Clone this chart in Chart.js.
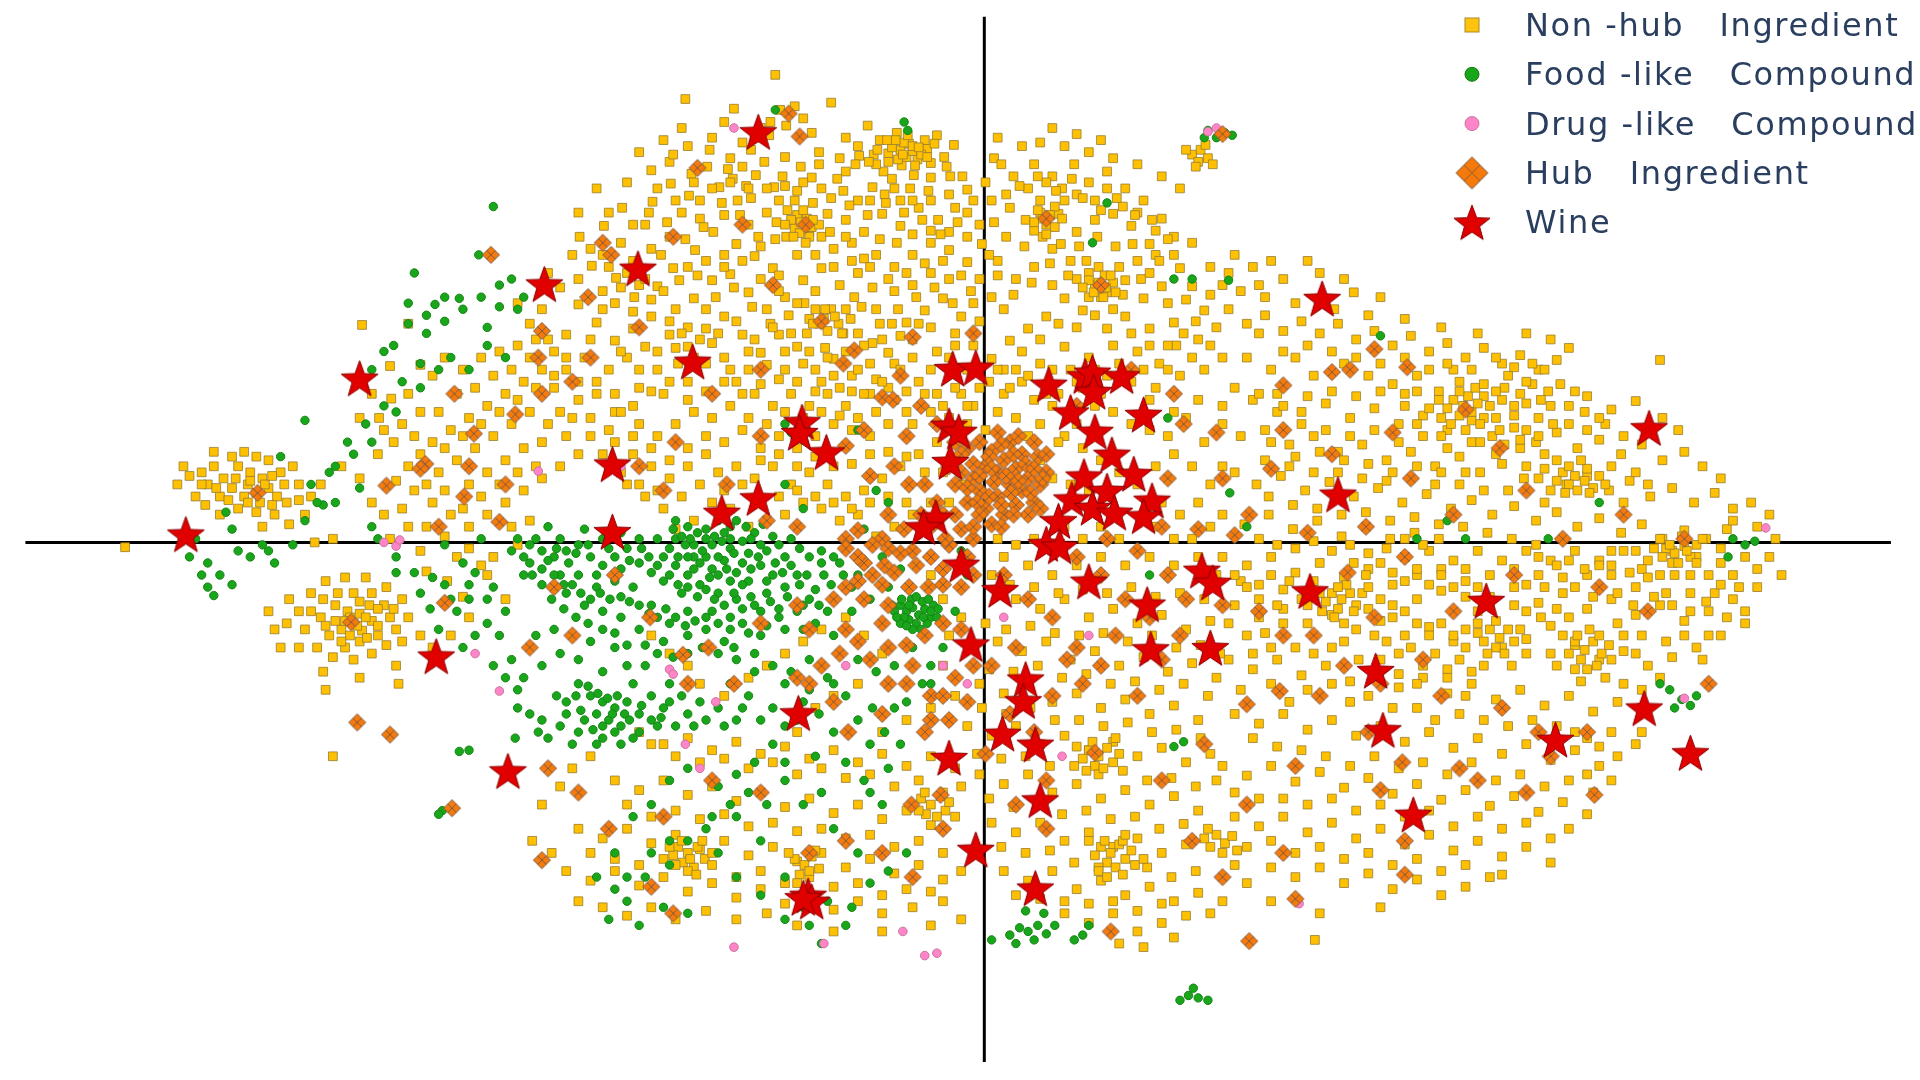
<!DOCTYPE html>
<html>
<head>
<meta charset="utf-8">
<title>Wine in the ingredient / compound map</title>
<script src="https://cdn.jsdelivr.net/npm/chart.js@4.4.1/dist/chart.umd.min.js"></script>
<style>
  html, body { margin: 0; padding: 0; background: #fff; }
  #wrap { width: 1920px; height: 1080px; }
</style>
</head>
<body>
<div id="wrap"><canvas id="chart" width="1920" height="1080"></canvas></div>
<script>
// embedding coordinates (x right, y down), flat x,y lists
const xRange = [0, 1568];
const yRange = [0, 882];
const origin = [804, 443];
const axisSpanX = [15, 1550];
const axisSpanY = [8, 873];

const seriesNames = ["Non -hub   Ingredient", "Food -like   Compound", "Drug -like   Compound", "Hub   Ingredient", "Wine"];

const nonHubTopLeft = [
  558,76, 632,56, 678,79, 598,84, 636,85, 648,82, 655,92, 641,98, 627,106, 662,104, 612,118, 640,124, 668,120, 690,108,
  708,98, 718,110, 725,121, 732,104, 742,113, 749,126, 757,117, 765,106, 771,124, 779,114, 736,131, 746,139, 721,136,
  701,123, 690,136, 760,141, 776,140, 712,149, 688,152, 662,141, 650,152, 631,149, 616,139, 601,160, 586,149, 576,132,
  561,156, 546,146, 531,161, 525,180, 506,166, 491,181, 471,190, 481,214, 501,224, 516,240, 535,231, 548,216, 566,201,
  581,186, 600,196, 615,206, 630,216, 641,190, 660,186, 675,171, 690,176, 705,186, 720,171, 735,181, 750,166, 766,176,
  780,166, 790,151, 745,205, 730,215, 715,205, 700,220, 685,230, 670,216, 655,226, 640,240, 625,250, 610,236, 595,221,
  580,226, 565,241, 550,250, 530,256, 515,266, 500,276, 485,261, 470,246, 460,271, 475,290, 495,300, 510,290, 525,281,
  545,271, 560,281, 575,266, 590,256, 605,271, 620,286, 635,271, 650,281, 665,300, 680,291, 695,305, 710,295, 725,286,
  740,261, 755,251, 770,241, 785,256, 760,195, 775,201, 790,211,
  735,118, 740,124, 745,119, 738,112, 752,122, 728,116, 733,126, 747,131, 725,128, 755,110, 741,106, 760,129,
  650,172, 658,175, 662,182, 648,183, 655,168, 668,180, 645,176, 660,190, 652,187, 642,168,
  665,250, 672,258, 678,250, 668,262, 660,258, 684,262, 675,268, 690,250, 656,245,
  620,100, 628,95, 615,108, 605,112, 595,125, 605,132,
  555,170, 570,175, 590,172, 610,180, 625,170, 635,160, 612,158, 597,142, 570,160, 545,190, 530,200, 515,210, 560,215,
  575,210, 590,205, 620,225, 635,235, 650,205, 665,205, 680,200, 695,195, 710,160, 722,155, 735,160, 700,160, 690,190,
  705,208, 718,192, 732,195, 745,188, 760,185, 775,186, 790,190, 775,225, 760,220, 745,230, 730,235, 712,232, 697,240,
  715,250, 728,262, 745,275, 760,265, 780,270, 795,280, 700,270, 712,278, 640,300, 610,300, 590,290, 575,295, 552,295,
  535,300, 500,320, 520,315, 540,320, 560,310, 520,230, 500,245, 490,235, 470,225, 465,205, 490,205, 505,195, 470,170,
  485,150, 510,145, 530,135, 520,120, 545,128, 560,115, 580,108, 590,95, 555,100, 540,110
];

const nonHubDenseTop = [
  548,122, 563,138, 578,118, 593,134, 608,148, 623,128, 638,140, 653,132, 668,130, 683,142, 698,130, 713,122, 728,142,
  743,150, 758,152, 773,132, 786,140, 795,160, 782,178, 768,188, 753,176, 738,170, 723,162, 708,172, 693,164, 678,158,
  663,162, 648,160, 633,178, 618,190, 603,172, 588,162, 573,182, 558,192, 543,178, 528,170, 538,205, 553,226, 568,222,
  583,240, 598,232, 613,248, 628,262, 643,255, 658,270, 673,282, 688,270, 703,248, 718,262, 733,250, 748,240, 763,232,
  778,245, 793,235, 785,222, 770,210, 755,212, 740,220, 725,225, 710,215, 695,210, 680,215, 665,235, 650,245, 635,222,
  620,198, 605,210, 590,215, 575,250, 560,265, 545,260, 530,242, 515,252, 505,285, 520,300, 535,285, 550,282, 565,290,
  580,278, 595,300, 610,285, 625,296, 640,285, 655,295, 670,310, 685,315, 700,300, 715,308, 730,295, 745,290, 760,300,
  775,290, 790,300, 800,315, 785,320, 770,330, 755,320, 740,318, 725,315, 710,320, 695,318, 680,305, 665,318, 650,310,
  635,308, 620,312, 605,320, 590,310, 575,318, 560,325, 545,310, 530,318, 515,330, 500,335, 485,310, 480,275, 490,250,
  505,232, 480,200, 495,170, 515,180, 535,150, 550,160, 565,145, 580,150, 595,145, 610,150, 625,150, 640,148, 655,145,
  670,150, 685,125, 700,115, 715,130, 730,150, 745,160, 760,160, 775,155, 790,170, 800,180, 795,245, 800,260, 780,280,
  765,285, 750,262, 735,272, 720,275, 705,280, 690,285, 675,290, 660,285, 645,270, 630,265, 615,275, 600,260, 585,270,
  570,275, 555,270, 540,235, 525,225, 510,220, 495,215, 745,115, 737,122, 750,116, 731,110, 757,124, 763,113, 724,110,
  716,118, 709,128, 653,178, 647,190, 663,176, 670,190, 657,195, 640,180, 632,192, 677,186, 673,250, 681,256, 663,262,
  687,270, 694,258
];

const nonHubTopRight = [
  812,125, 828,140, 845,130, 860,140, 878,130, 890,145, 905,136, 920,150, 935,160, 950,175, 960,190, 940,196, 925,181,
  910,171, 895,176, 880,186, 865,171, 850,160, 838,176, 825,166, 812,178, 802,196, 815,210, 830,225, 845,215, 860,200,
  875,210, 890,220, 905,236, 920,226, 935,241, 950,231, 965,216, 975,231, 985,251, 960,261, 940,266, 920,256, 905,266,
  885,251, 870,241, 855,256, 840,266, 825,276, 810,291, 830,300, 850,295, 870,281, 890,290, 910,280, 930,285, 948,295,
  962,280, 980,275, 995,265, 1000,290, 985,300, 965,305, 945,315, 925,310, 905,305, 885,315, 865,320, 845,325, 820,320,
  810,240, 800,225, 820,250, 860,230, 880,225, 895,230, 900,240, 910,228, 890,240, 898,215, 915,215, 930,210, 945,205,
  960,205, 975,195, 990,215, 1000,230, 855,180, 850,170, 862,165, 870,160, 845,185, 840,150, 855,145, 868,150, 880,155,
  895,160, 905,150, 918,165, 930,170, 945,185, 822,155, 810,160, 805,145, 815,108, 835,115, 850,112, 870,115, 890,120,
  910,125, 930,130, 950,140, 965,150, 900,110, 880,105, 860,100,
  975,122, 982,118, 988,125, 980,128, 992,130, 986,114, 970,118, 978,132,
  1010,205, 1025,215, 1040,210, 1030,230, 1050,225, 1015,235, 1005,220,
  818,130, 833,148, 848,140, 863,152, 876,142, 885,158, 900,168, 913,158, 928,172, 942,176, 955,192, 948,210, 933,225,
  918,238, 903,222, 888,210, 873,222, 858,212, 843,228, 828,238, 815,222, 808,205, 822,190, 837,198, 852,190, 867,196,
  882,198, 897,190, 912,198, 926,196, 940,220, 955,245, 970,242, 990,238, 978,260, 968,270, 955,280, 940,280, 925,270,
  910,250, 895,255, 880,265, 865,262, 850,275, 835,285, 820,300, 808,310, 835,310, 855,320, 875,300, 895,300, 915,295,
  935,300, 955,300, 975,290, 990,280, 852,175, 858,172, 848,168, 862,182, 845,178, 855,188, 868,175, 898,228, 904,232,
  894,236, 908,222, 890,226, 902,240, 912,236, 885,232
];

const nonHubLeft = [
  190,380, 200,385, 210,390, 198,395, 205,402, 215,398, 222,405, 195,405, 185,398, 178,390, 170,380, 160,385, 150,388,
  140,395, 165,395, 175,405, 230,410, 240,395, 235,380, 225,385, 215,375, 205,372, 195,368, 185,372, 250,405, 245,420,
  232,428, 220,420, 205,418, 190,415, 175,420, 210,430, 170,368, 155,405, 163,412,
  200,392, 212,395, 208,410, 198,410, 218,388, 188,390, 228,395, 182,408, 172,398, 240,408, 218,412, 160,395, 145,380,
  258,395,
  270,495, 280,500, 290,502, 298,495, 285,510, 275,515, 292,516, 300,508, 305,520, 290,525, 278,530, 265,520, 258,505,
  260,490, 272,485, 285,485, 300,485, 310,495, 315,505, 320,515, 312,528, 300,535, 285,540, 268,538, 255,530, 245,515,
  240,500, 250,485, 262,475, 278,472, 295,472, 312,480, 325,490, 330,505, 325,525, 240,530, 230,510, 232,490, 220,515,
  225,530, 215,500, 260,550, 290,555, 320,545, 340,520, 262,565, 268,620, 322,560,
  282,505, 288,512, 295,505, 278,508, 296,522, 282,520, 270,508, 305,498, 262,512, 305,512, 275,525, 250,500, 318,498,
  290,492,
  292,263, 330,262, 315,297, 340,296, 350,305, 330,320, 360,290, 375,300, 390,290, 405,285, 420,280, 435,275, 450,285,
  440,300, 425,310, 410,320, 395,330, 380,340, 365,350, 350,360, 340,370, 330,380, 320,392, 335,400, 350,410, 365,420,
  380,430, 395,420, 410,410, 425,400, 440,390, 455,380, 470,370, 460,355, 445,345, 430,335, 415,345, 400,355, 385,365,
  370,375, 355,385, 380,395, 395,385, 410,375, 425,365, 440,360, 455,335, 470,325, 485,320, 480,340, 495,350, 505,335,
  520,345, 535,355, 550,345, 565,335, 580,340, 595,330, 310,420, 300,410, 325,415, 345,430, 360,438, 380,448, 400,455,
  420,445, 268,440, 253,443, 97,447, 275,380, 290,390, 305,370, 318,360, 325,345, 340,335, 306,340, 316,324, 440,250,
  430,262, 420,245, 455,232, 445,220, 470,310, 460,300, 450,315, 345,467, 362,475, 375,488, 395,470, 410,490, 380,505,
  365,520, 350,530,
  300,320, 290,340, 310,350, 335,355, 355,335, 370,320, 385,315, 400,305, 415,300, 430,290, 445,275, 460,290, 390,345,
  405,335, 420,325, 435,315, 450,305, 465,340, 480,355, 490,370, 505,385, 520,395, 535,400, 420,385, 435,380, 405,395,
  390,405, 375,415, 360,400, 345,395, 330,430, 315,440, 340,450, 370,455, 390,462, 415,430, 430,425, 360,365, 375,355
];

const nonHubCentre = [
  600,310, 615,320, 630,330, 645,320, 660,330, 675,320, 690,330, 705,320, 720,310, 735,300, 750,310, 765,320, 780,315,
  795,330, 740,335, 725,345, 710,355, 695,350, 680,345, 665,355, 650,365, 635,355, 620,365, 605,350, 590,360, 575,370,
  560,380, 545,390, 530,380, 515,370, 500,360, 510,395, 525,405, 540,415, 555,405, 570,395, 585,385, 600,380, 615,390,
  630,380, 645,395, 660,385, 675,395, 690,405, 705,400, 720,390, 735,380, 750,370, 765,360, 780,355, 790,345, 785,395,
  775,410, 760,410, 745,420, 730,430, 715,438, 700,420, 685,425, 670,415, 655,410, 640,420, 625,425, 610,430, 595,415,
  580,410, 565,425, 550,432,
  610,340, 625,345, 640,335, 655,340, 670,335, 685,338, 700,340, 715,335, 730,325, 745,345, 760,335, 775,340, 790,330,
  620,375, 635,370, 650,380, 665,372, 680,380, 695,378, 710,370, 725,368, 740,372, 755,385, 770,385, 590,400, 605,395,
  620,410, 635,405, 650,400, 665,405, 680,410, 695,415, 710,410, 725,405, 740,410, 575,355, 560,365, 545,375, 530,365,
  515,355,
  860,330, 850,345, 870,355, 885,365, 900,375, 915,385, 930,395, 945,380, 960,370, 975,380, 990,395, 1000,380, 985,360,
  970,340, 955,355, 940,350, 925,345, 910,335, 895,330, 880,345, 865,360, 850,375, 860,390, 875,395, 890,400, 950,410,
  965,420, 980,410, 990,430, 975,440, 960,440, 945,430, 915,440, 900,430, 885,440, 870,430, 845,440, 830,445, 815,440,
  805,350, 815,335, 830,340, 840,355, 825,315, 815,300, 840,305, 860,300, 880,310, 900,320, 940,325, 960,335, 980,325,
  1000,330
];

const nonHubRightUpper = [
  1005,250, 1020,262, 1035,255, 1050,268, 1065,260, 1080,270, 1095,262, 1110,275, 1125,268, 1140,280, 1155,272, 1170,285,
  1185,278, 1200,290, 1215,282, 1230,295, 1245,288, 1260,300, 1275,292, 1285,282, 1210,270, 1180,265, 1150,258, 1120,255,
  1092,250, 1060,245, 1035,240, 1130,240, 1108,236, 1100,225, 1080,220, 1070,210, 1020,290, 1040,300, 1060,290, 1075,305,
  1100,295, 1120,305, 1140,312, 1160,305, 1178,318, 1195,310, 1215,322, 1232,315, 1250,328, 1268,318, 1285,330, 1300,322,
  1320,333, 1340,326, 1360,292, 1362,340, 1375,350, 1010,315, 1025,325, 1045,320, 1065,335, 1085,328, 1105,340, 1125,332,
  1145,345, 1165,338, 1185,350, 1205,342, 1222,355, 1240,348, 1258,360, 1275,352, 1292,365, 1310,358, 1328,370, 1345,362,
  1362,375, 1380,368, 1395,380, 1410,390, 1000,345, 1015,355, 1035,350, 1055,362, 1075,355, 1095,368, 1115,362, 1135,375,
  1155,368, 1175,380, 1195,372, 1212,385, 1230,378, 1248,390, 1265,382, 1283,395, 1300,388, 1318,400, 1335,392, 1352,405,
  1370,398, 1388,410, 1405,402, 1420,415, 1435,410, 1450,420, 1010,385, 1028,395, 1048,388, 1068,400, 1088,393, 1108,405,
  1128,398, 1148,410, 1168,403, 1188,415, 1205,408, 1222,420, 1240,413, 1258,425, 1275,418, 1292,430, 1310,423, 1328,435,
  1345,428, 1362,440, 1380,433, 1398,440, 1415,432, 1000,420, 1018,428, 1038,420, 1058,432, 1078,425, 1098,438, 1118,430,
  1138,440, 1158,435, 1178,440,
  1190,325, 1198,330, 1205,335, 1210,328, 1195,338, 1185,332, 1215,340, 1202,322, 1220,330, 1180,340,
  1280,385, 1290,388, 1298,392, 1285,395, 1300,382, 1305,398, 1275,392, 1292,400, 1310,388,
  1205,300, 1250,270, 1270,275, 1190,300,
  1195,318, 1208,315, 1212,345, 1188,345, 1225,340, 1178,325, 1200,350, 1230,325, 1170,332, 1240,338, 1160,345, 1150,330,
  1180,355, 1250,350, 1260,340, 1270,330, 1285,345, 1300,350, 1315,345, 1330,355,
  1285,380, 1295,375, 1302,402, 1282,402, 1270,400, 1315,395, 1320,380, 1275,375, 1260,390, 1330,410, 1340,385, 1350,395,
  1265,410, 1250,380,
  1030,270, 1050,285, 1070,280, 1090,285, 1110,290, 1130,295, 1150,290, 1170,300, 1185,295, 1045,335, 1065,345, 1085,350,
  1105,355, 1125,350, 1145,360, 1165,355, 1185,365, 1205,360, 1225,370, 1245,365, 1265,370, 1035,375, 1055,380, 1075,385,
  1095,385, 1115,390, 1135,392, 1175,395, 1195,395, 1215,400, 1235,400, 1038,405, 1058,412, 1078,415, 1098,420, 1118,418,
  1138,425, 1158,422, 1178,428, 1198,430, 1218,435, 1238,440, 1258,445,
  1215,312, 1225,318, 1235,305, 1245,320, 1255,312, 1262,325, 1240,330, 1228,350, 1245,358, 1260,355, 1272,345, 1212,360,
  1232,362, 1250,310, 1265,300, 1278,312, 1290,318, 1298,335, 1310,340, 1225,290, 1240,298, 1255,295,
  1030,320, 1050,330, 1070,322, 1090,318, 1110,322, 1130,318, 1150,320, 1160,318, 1040,360, 1060,372, 1080,368, 1100,375,
  1120,378, 1140,385, 1160,380, 1180,385, 1200,385
];

const nonHubRightLower = [
  1000,455, 1020,462, 1040,455, 1060,468, 1080,460, 1100,472, 1120,465, 1140,478, 1160,470, 1180,483, 1200,475, 1220,488,
  1240,480, 1260,493, 1280,485, 1300,498, 1320,490, 1340,503, 1360,495, 1380,508, 1400,500, 1420,490, 1440,480, 1460,470,
  1450,455, 1430,455, 1410,448, 1390,455, 1370,450, 1350,458, 1330,450, 1310,458, 1290,450, 1270,458, 1250,450, 1230,458,
  1210,450, 1190,458, 1170,450, 1150,455,
  1010,495, 1030,505, 1050,498, 1070,510, 1090,503, 1110,515, 1130,508, 1150,520, 1170,513, 1190,525, 1210,518, 1230,530,
  1250,523, 1270,535, 1290,528, 1310,540, 1330,533, 1350,545, 1370,538, 1390,530, 1410,520, 1430,510,
  1005,540, 1025,548, 1045,540, 1065,553, 1085,545, 1105,558, 1125,550, 1145,563, 1165,555, 1185,568, 1205,560, 1225,573,
  1245,565, 1265,578, 1285,570, 1305,583, 1325,575, 1345,565, 1360,555,
  1010,585, 1030,593, 1050,585, 1070,598, 1090,590, 1110,603, 1130,595, 1150,608, 1170,600, 1190,613, 1210,605, 1230,618,
  1250,610, 1270,623, 1290,615, 1310,628, 1325,620, 1345,600, 1300,605, 1320,640, 1305,650,
  1000,628, 1020,636, 1040,628, 1060,641, 1080,633, 1100,646, 1120,638, 1140,651, 1160,643, 1180,656, 1200,648, 1220,661,
  1240,653, 1260,666, 1280,658,
  1010,670, 1030,678, 1050,670, 1070,683, 1090,675, 1110,688, 1130,680, 1150,693, 1170,685, 1190,698, 1210,690, 1230,703,
  1250,695, 1270,708,
  1040,712, 1060,720, 1080,712, 1100,725, 1120,717, 1140,730, 1160,722, 1180,735, 1130,745, 1080,750, 1040,740, 1020,725,
  1010,710, 1000,740, 1200,728, 1230,718, 1285,680, 1300,668, 1076,772,
  1365,448, 1372,452, 1380,446, 1385,455, 1370,460, 1360,440, 1378,438, 1390,445,
  1290,525, 1298,532, 1305,525, 1312,535, 1295,540, 1285,535, 1308,545, 1318,528,
  1220,515, 1228,522, 1235,515, 1240,525, 1225,530, 1215,525,
  1090,485, 1098,490, 1105,485, 1110,495, 1095,498, 1085,492, 1102,478,
  995,685, 1002,692, 1008,686, 990,695, 1000,700, 1012,698, 985,688,
  1368,445, 1375,460, 1382,450, 1362,455, 1390,460, 1395,440, 1355,448, 1372,470, 1385,470, 1400,470, 1345,465, 1340,450,
  1410,460, 1420,470, 1425,480, 1405,485, 1385,485, 1365,485,
  1292,520, 1302,515, 1310,520, 1300,548, 1290,548, 1320,540, 1280,520, 1275,545, 1315,555, 1295,558, 1330,520, 1325,510,
  1340,535, 1270,512,
  1225,508, 1232,535, 1218,535, 1245,515, 1210,510, 1250,535, 1200,530, 1238,545,
  1095,480, 1108,500, 1092,505, 1115,485, 1080,485, 1082,500, 1120,498, 1100,510, 1070,495, 1075,475,
  1040,560, 1055,575, 1070,565, 1090,560, 1105,575, 1120,570, 1140,580, 1160,580, 1175,590, 1195,585, 1215,590, 1235,595,
  1255,590, 1275,595, 1290,600, 1015,565, 1025,605, 1045,612, 1065,615, 1085,620, 1105,628, 1125,620, 1145,630, 1165,625,
  1185,635, 1205,625, 1225,640, 1245,635, 1265,645, 1285,640, 1300,635, 1010,650, 1030,655, 1050,655, 1070,660, 1090,655,
  1110,665, 1130,660, 1150,670, 1170,665, 1190,678, 1210,670, 1230,680, 1250,675, 1270,688, 1020,695, 1040,690, 1060,700,
  1080,695, 1100,705, 1120,700, 1140,710, 1160,705, 1180,715, 1200,710, 1220,720,
  1320,450, 1300,470, 1280,472, 1260,470, 1240,465, 1220,470, 1200,465, 1180,465, 1160,490, 1140,495, 1120,480, 1050,482,
  1030,478, 1015,475, 1320,470, 1340,480, 1360,470, 1440,465, 1455,440, 1440,430, 1420,425, 1430,500, 1415,505, 1400,520,
  1395,540, 1380,520, 1365,525, 1345,520, 1330,560, 1345,580, 1340,610, 1320,600, 1310,612,
  1130,460, 1140,468, 1150,475, 1160,465, 1170,478, 1180,470, 1190,480, 1200,488, 1210,480, 1130,490, 1140,505, 1150,500,
  1160,510, 1170,520, 1180,510, 1190,520, 1200,515, 1210,500, 1220,495, 1135,525, 1145,535, 1155,530, 1165,545, 1175,535,
  1185,548, 1195,540, 1205,550, 1215,545, 1130,540, 1125,520, 1118,470, 1108,460, 1112,540, 1145,552, 1160,560, 1185,555,
  1200,570,
  1260,455, 1275,462, 1285,458, 1298,465, 1310,462, 1320,462, 1335,468, 1350,472, 1250,478, 1265,480, 1290,480, 1305,488,
  1325,485, 1338,495, 1355,488, 1370,495, 1385,500, 1398,492, 1410,478, 1250,500, 1262,505, 1275,498, 1285,505, 1240,495,
  1030,440, 1045,445, 1060,448, 1075,442, 1090,450, 1105,445, 1120,452, 1135,448, 1150,440, 1165,445, 1040,470, 1055,475,
  1065,490, 1045,495, 1030,490, 1020,480, 1010,470, 1005,510, 1020,520, 1035,518, 1050,510, 1060,530, 1075,535, 1090,530,
  1100,525, 1040,530, 1025,535
];

const nonHubCentreLower = [
  820,455, 840,462, 860,470, 880,462, 900,455, 920,462, 940,455, 960,462, 980,455, 995,470,
  830,490, 850,498, 870,490, 890,505, 910,498, 930,510, 950,503, 970,515, 990,508,
  815,525, 835,533, 855,525, 875,540, 895,533, 915,545, 935,538, 955,550, 975,543, 995,555,
  800,560, 820,568, 840,560, 860,575, 880,568, 900,580, 920,573, 940,585, 960,578, 980,590,
  790,595, 810,603, 830,595, 850,610, 870,603, 890,615, 910,608, 930,620, 950,613, 970,625, 990,618,
  800,635, 820,643, 840,635, 860,650, 880,643, 900,655, 920,648, 940,660, 960,653, 980,665,
  810,675, 830,683, 850,675, 870,690, 890,683, 910,695, 930,688, 950,700, 970,693,
  820,715, 840,723, 860,715, 880,730, 900,723, 920,735, 940,728, 960,740, 980,733,
  870,750, 890,758, 910,750, 930,765, 950,758, 915,775, 935,778, 960,770,
  900,695, 908,700, 915,693, 920,705, 905,708, 895,702, 912,712, 925,698,
  890,615, 898,620, 905,613, 910,625, 895,628, 885,622,
  810,470, 825,478, 845,480, 865,485, 885,482, 905,485, 925,480, 945,488, 965,485, 985,490,
  805,510, 822,515, 842,512, 862,518, 882,520, 902,518, 922,525, 942,520, 962,530, 982,528, 998,535,
  808,548, 828,550, 848,545, 868,555, 888,552, 908,560, 928,558, 948,565, 968,560, 988,570,
  802,580, 822,585, 842,580, 862,590, 882,590, 902,595, 922,592, 942,600, 962,598, 982,605,
  798,618, 818,622, 838,620, 858,628, 878,628, 898,635, 918,632, 938,640, 958,638, 978,645, 995,640,
  808,655, 828,662, 848,660, 868,668, 888,665, 908,672, 928,670, 948,680, 968,676, 988,680,
  818,695, 838,700, 858,698, 878,708, 898,712, 918,718, 938,712, 958,720, 978,715,
  830,735, 850,738, 870,740, 890,742, 910,740, 930,748, 950,742, 970,752, 990,750,
  903,690, 918,690, 928,710, 898,715, 890,690, 905,720, 920,685, 935,705,
  893,608, 902,630, 915,618, 880,612, 888,632, 912,605
];

const nonHubBottomLeft = [
  520,600, 540,610, 560,605, 580,615, 600,608, 620,618, 640,612, 660,622, 680,615, 700,625, 720,618, 740,628, 760,620,
  780,630, 500,640, 520,648, 540,640, 560,652, 580,645, 600,657, 620,650, 640,662, 660,655, 680,667, 700,660, 720,672,
  740,665, 760,677, 780,670, 470,680, 490,688, 510,680, 530,692, 550,685, 570,697, 590,690, 610,702, 630,695, 650,707,
  670,700, 690,712, 710,705, 730,717, 750,710, 770,722, 785,715, 460,715, 480,723, 500,715, 520,727, 540,720, 560,732,
  580,725, 600,737, 620,730, 640,742, 660,735, 680,747, 700,740, 720,750, 745,745, 770,740, 440,660, 455,645, 465,630,
  480,620, 448,700, 432,690,
  552,695, 560,700, 568,695, 574,705, 556,708, 548,702, 565,712,
  648,705, 656,710, 662,703, 668,713, 652,718,
  752,655, 760,660, 768,653, 772,665, 756,668,
  530,520, 545,535, 560,545, 570,560, 590,570, 610,555, 625,545, 640,535, 655,525, 670,515, 690,505, 705,520, 720,535,
  700,560, 680,570, 665,580, 650,600, 720,600, 740,590, 760,580, 780,570, 770,545, 775,520, 785,505, 770,490, 760,470,
  530,610, 550,620, 570,625, 590,622, 610,630, 630,625, 650,635, 670,630, 690,638, 710,635, 730,645, 750,640, 770,650,
  785,645, 510,660, 530,670, 550,665, 570,672, 590,668, 610,678, 630,675, 650,682, 670,680, 690,688, 710,685, 730,695,
  750,690, 770,700, 480,700, 500,705, 520,710, 540,705, 560,715, 580,710, 600,720, 620,715, 640,725, 660,720, 680,728,
  700,725, 720,735, 740,730, 760,732, 555,690, 562,705, 572,690, 545,695, 580,700, 567,718, 550,710, 643,700, 660,715,
  650,725, 665,698, 755,650, 765,670, 750,665, 775,658, 470,740, 490,745, 510,752, 530,745, 550,755, 575,748, 600,755,
  625,750, 650,760, 680,765, 720,765, 760,760, 785,755
];

const foodLeft = [
  400,165, 388,205, 335,220, 372,241, 352,246, 330,262, 318,280, 300,300, 310,285, 345,270, 360,260, 395,265, 405,248,
  415,225, 425,240, 410,290, 365,290, 340,315, 320,335, 300,360, 285,370, 265,385, 250,395, 245,342, 225,372, 270,410,
  260,412, 180,418, 185,432, 160,470, 170,487, 185,478, 200,455, 215,450, 155,440, 165,460, 290,398, 300,430, 305,440,
  320,455, 335,468, 350,472, 360,445, 375,460, 390,440, 385,468, 395,490, 380,478, 365,490, 370,500, 355,515, 348,498,
  410,500, 425,470, 405,520, 415,540, 425,555, 418,605, 437,600, 420,580, 372,616, 380,615, 358,665, 355,668,
  330,245, 345,255, 360,240, 375,250, 390,240, 405,230, 420,250, 395,280, 380,300, 355,300, 340,295, 325,310, 310,330,
  295,345, 280,360, 270,380, 255,410, 245,425, 235,445, 220,460, 210,445, 190,450, 175,470, 165,480, 150,455, 320,468,
  340,485, 360,478, 380,490, 400,480, 395,510, 385,520, 375,530, 400,545, 410,555, 420,565, 430,585, 440,590
];

const foodCore = [
  420,440, 430,445, 440,450, 450,455, 460,450, 470,445, 480,455, 490,462, 500,455, 510,448, 520,460, 530,468, 540,455,
  550,462, 560,470, 570,460, 580,465, 590,458, 600,468, 610,475, 620,462, 630,470, 640,480, 650,470, 660,490, 445,430,
  455,440, 475,432, 490,440, 505,435, 520,440, 535,440, 550,440, 565,445, 580,445, 595,448, 610,452, 625,450, 640,455,
  550,425, 560,430, 575,432, 590,435, 600,425, 615,435, 630,438, 540,475, 555,485, 570,478, 585,485, 600,490, 615,495,
  625,485, 580,500, 595,505, 560,500, 545,510, 530,495, 515,480, 500,475, 485,480, 470,470, 455,470, 440,465, 430,460,
  460,485, 475,495, 490,500, 505,505, 520,515, 540,525, 560,520, 575,515, 590,525, 605,510, 620,520, 635,505, 650,500,
  665,510, 680,520, 695,500, 710,490, 725,480, 700,470, 685,460, 670,450, 690,440, 705,432, 720,455, 735,465, 575,455,
  585,470, 565,455, 595,475, 605,460, 575,440, 560,455,
  415,450, 425,455, 435,440, 445,458, 452,448, 462,460, 468,452, 478,445, 485,470, 495,448, 505,465, 512,458, 522,448,
  528,455, 535,462, 545,448, 552,455, 558,445, 565,465, 572,450, 578,472, 585,455, 592,465, 598,452, 605,478, 612,465,
  618,455, 625,475, 632,460, 638,468, 645,462, 652,478, 658,470, 665,482, 672,470, 678,478, 688,470, 695,480,
  548,432, 555,438, 562,440, 568,435, 582,438, 588,442, 595,440, 605,442, 612,440, 620,445, 635,445, 645,440, 652,448,
  660,455, 670,460, 680,455, 585,425, 595,430, 608,430, 622,428,
  545,470, 552,478, 560,480, 568,488, 575,482, 582,490, 590,495, 598,485, 605,498, 612,488, 620,500, 628,492, 635,498,
  642,488, 655,495, 668,495, 675,500,
  450,470, 458,478, 465,478, 472,485, 480,490, 488,485, 496,490, 505,488, 512,492, 520,495, 528,502, 535,505, 542,498,
  550,505, 558,512, 566,508, 575,505, 585,510, 595,515, 610,518, 625,512, 640,515, 655,515,
  432,470, 440,478, 448,490, 458,498, 468,505, 478,510, 490,515, 500,518, 510,528, 525,528, 535,535, 548,538, 560,535,
  572,530, 585,535, 598,530,
  735,495, 740,500, 745,497, 750,503, 755,498, 760,505, 742,507, 748,510, 738,505, 753,492, 762,495, 730,500, 744,490,
  757,510, 736,490, 742,495, 748,488, 754,505, 760,500, 735,510, 745,515, 752,515, 765,505, 728,495, 740,512, 758,490,
  766,498, 732,505
];

const foodSouth = [
  470,560, 480,570, 490,575, 500,580, 510,575, 520,585, 495,590, 485,585, 505,595, 515,560, 530,570, 540,580, 460,575,
  475,590, 490,605, 505,610, 520,600, 455,595, 445,605, 465,610, 535,595, 550,595, 560,585, 570,575, 585,580, 600,590,
  610,570, 595,560, 545,560, 525,545, 510,545, 490,550, 470,540, 455,535, 440,545, 435,520, 450,515, 465,520, 480,525,
  500,530, 600,540, 615,550, 640,560, 660,540, 675,555, 690,570, 650,590, 630,610, 615,625, 600,635, 585,645, 640,625,
  665,620, 680,600, 560,630, 545,640, 530,660, 515,670, 500,700, 485,720, 510,740, 495,755, 525,720, 545,710, 575,680,
  600,670, 620,690, 640,720, 655,745, 670,775, 690,760, 700,700, 680,680, 710,650, 725,630, 735,610, 710,610, 730,580,
  760,560, 770,530, 780,500, 790,470, 785,450,
  478,562, 486,568, 494,572, 502,570, 508,585, 498,585, 490,595, 482,598, 472,582, 468,570, 512,590, 522,578, 530,590,
  538,588, 515,605, 500,600, 485,610, 470,600, 460,585, 452,570, 545,575, 555,570, 565,595, 575,590, 590,595, 605,580,
  620,590, 630,580, 640,595, 655,575, 668,585, 680,560, 700,590, 712,580, 722,600, 740,575, 753,560,
  615,535, 630,545, 645,550, 660,565, 700,540, 715,550, 730,545, 745,530, 760,545, 690,625, 705,640, 720,660, 670,650,
  655,660, 640,640, 625,660, 610,650, 595,660, 580,670, 560,690, 545,690, 530,700, 510,720, 500,730, 520,760, 540,745,
  560,750, 585,700, 600,720, 620,735, 640,755, 660,760, 675,740, 695,745, 710,725, 725,715, 740,700
];

const foodOther = [
  640,345, 645,352, 738,95, 741,102, 632,85, 905,162, 893,195, 960,225, 975,225, 1005,226, 1130,272, 1160,440, 1185,425,
  1200,440, 1268,440, 1310,410, 1438,442, 1430,445, 1420,440, 1416,455, 1378,573, 1385,578, 1390,570, 1372,580, 1360,560,
  1368,565, 825,768, 833,762, 840,765, 848,760, 855,767, 845,772, 830,775, 810,772, 862,760, 853,750, 838,748, 965,822,
  972,818, 980,820, 988,822, 976,812, 878,772, 885,768, 890,760, 988,102, 995,108, 1002,104, 985,108, 1008,106, 960,612,
  968,608, 1006,402, 1020,430, 940,470, 955,340, 700,350, 715,400, 725,410, 640,395, 655,415
];

const drugPts = [
  598,100, 988,103, 995,100, 320,446, 310,443, 323,441, 385,535, 405,566, 545,548, 558,610, 570,630, 598,778, 737,765,
  755,785, 765,783, 672,775, 890,520, 868,620, 1063,742, 1380,572, 1447,431, 690,545, 770,545, 505,380, 437,384, 583,575,
  548,552, 820,505, 790,560
];

const hubPts = [
  568,133, 605,180, 652,107, 643,88, 657,180, 548,190, 490,195, 497,205, 398,205, 478,240, 440,268, 437,290, 465,310,
  368,320, 384,353, 344,378, 340,382, 312,396, 376,405, 405,426, 288,592, 315,602, 366,663, 440,706, 530,728, 548,750,
  529,505, 556,536, 577,530, 620,510, 660,515, 680,575, 692,600, 720,585, 744,660, 768,652, 805,618, 855,640, 872,540,
  880,530, 912,520, 895,617, 985,610, 1020,577, 1047,566, 1080,570, 1060,628, 1130,648, 1148,625, 1195,630, 1250,650,
  1306,652, 1270,620, 1300,600, 1150,718, 1060,738, 1022,773, 908,765, 855,175, 900,230, 1050,313, 1090,302, 1105,300,
  1125,283, 1152,298, 1200,333, 1228,365, 1190,420, 1118,430, 1070,435, 1010,437, 980,432, 968,345, 995,352, 1040,382,
  1022,420, 1140,352, 1000,105, 795,270, 745,273, 697,284, 670,260, 720,323, 729,325, 705,350, 690,363, 710,388,
  725,420, 700,433, 690,440, 705,460, 730,468, 745,450, 770,420, 755,395,
  790,365, 800,360, 810,368, 820,375, 830,382, 840,390, 815,385, 825,395, 835,400, 845,410, 805,380, 795,390, 800,400,
  815,405, 830,412, 820,420, 810,428, 840,420, 850,395, 835,370, 855,385, 825,360, 815,352, 848,372, 805,415,
  790,410, 780,395, 775,380, 785,370, 826,402, 812,393,
  735,305, 752,330, 765,345, 740,355, 730,380, 742,395, 760,430, 775,445, 790,455, 770,465, 720,440, 700,475, 680,490,
  650,495, 690,515, 720,510, 725,530, 745,545, 760,570, 790,575, 775,590, 755,600, 820,470, 840,490, 860,505, 830,530,
  810,545, 825,585, 845,600, 860,570, 885,560, 900,545, 930,570, 950,540, 965,520, 940,505, 920,490, 900,470, 880,455,
  905,440, 930,450, 955,470, 970,490, 1000,495, 1030,500, 1050,520, 1075,520, 1100,545, 1130,560, 1165,540, 1190,500,
  1240,470, 1280,440, 1310,480, 1350,500, 1400,560, 1380,440, 1330,420, 1250,400, 1155,390, 1090,370, 1050,350,
  960,320, 925,300, 880,330, 955,390, 1000,390, 950,430, 1103,468, 1150,455, 1125,505, 1180,570, 1230,580, 1260,600,
  1210,640, 1120,600, 1020,660, 950,640, 975,690, 1050,700, 1000,720, 1150,690, 855,680, 830,660, 770,680, 745,720,
  720,700, 690,690, 660,700, 620,650, 580,640, 540,670, 495,680, 470,650, 445,630, 598,560, 650,555, 560,560, 465,520,
  450,480, 500,470, 540,400, 520,380, 550,360, 592,395, 625,425, 650,430, 620,355, 580,320, 620,300, 688,295, 630,230,
  520,265, 480,290, 440,320, 418,337, 380,380, 410,395, 355,430, 360,493, 430,530, 283,509, 206,402,
  690,448, 700,455, 712,445, 722,462, 735,452, 748,462, 760,455, 772,440, 785,432, 795,440, 780,420, 765,410, 752,420,
  738,432, 725,448, 712,470, 720,478, 742,480, 758,480, 770,478, 785,480, 795,470, 690,480, 705,490, 725,495, 740,528,
  755,520, 770,510, 785,515, 795,545, 780,555, 770,570, 760,590, 740,560, 725,560, 710,540, 700,525, 685,535, 670,545,
  660,560,
  795,378, 808,372, 818,362, 828,370, 838,378, 845,382, 852,390, 842,402, 832,392, 822,388, 810,382, 800,388, 790,398,
  798,410, 808,405, 818,412, 828,420, 818,430, 850,415, 800,420, 795,430, 785,385, 780,360, 832,355, 845,360, 855,370
];

const winePts = [
  618,103, 519,216, 442,229, 1082,241, 290,307, 564,293, 654,343, 652,352, 674,368, 498,378, 778,299, 797,298, 857,312,
  887,305, 893,302, 894,318, 917,305, 875,335, 935,337, 895,351, 775,346, 783,351, 776,376, 909,370, 886,388, 927,386,
  905,400, 876,407, 893,414, 911,418, 942,408, 935,421, 764,422, 754,430, 865,425, 855,444, 866,446, 785,461, 817,482,
  890,475, 938,494, 983,466, 992,476, 147,436, 498,434, 588,418, 618,406, 1351,348, 1095,403, 1072,483, 1217,491,
  941,531, 990,530, 793,527, 353,537, 838,556, 836,574, 1126,549, 651,584, 1347,580, 1132,598, 819,601, 846,610,
  775,621, 1274,606, 1385,617, 412,632, 850,656, 1157,668, 797,697, 846,729, 659,735, 662,740, 655,737
];

function toPoints(...lists) {
  const out = [];
  lists.forEach((flat) => {
    for (let i = 0; i + 1 < flat.length; i += 2) out.push({ x: flat[i], y: flat[i + 1] });
  });
  return out;
}

// plotly-ish marker glyphs as small canvases
function makeStar(outer, inner) {
  const c = document.createElement("canvas");
  const s = Math.ceil(outer * 2 + 4);
  c.width = s; c.height = s;
  const g = c.getContext("2d");
  g.translate(s / 2, s / 2 + outer * 0.1);
  g.beginPath();
  for (let i = 0; i < 10; i++) {
    const r = i % 2 === 0 ? outer : inner;
    const a = -Math.PI / 2 + i * Math.PI / 5;
    g.lineTo(r * Math.cos(a), r * Math.sin(a));
  }
  g.closePath();
  g.fillStyle = "#e00000";
  g.fill();
  g.lineWidth = 1;
  g.strokeStyle = "#8a0000";
  g.stroke();
  return c;
}

function makeDiamond(half) {
  const c = document.createElement("canvas");
  const s = Math.ceil(half * 2 + 3);
  c.width = s; c.height = s;
  const g = c.getContext("2d");
  g.translate(s / 2, s / 2);
  g.beginPath();
  g.moveTo(0, -half); g.lineTo(half, 0); g.lineTo(0, half); g.lineTo(-half, 0);
  g.closePath();
  g.fillStyle = "#f57a0a";
  g.fill();
  g.strokeStyle = "#7d5a44";
  g.lineWidth = 1;
  g.stroke();
  // the x through the middle
  const h = half / 2;
  g.beginPath();
  g.moveTo(-h, -h); g.lineTo(h, h);
  g.moveTo(h, -h); g.lineTo(-h, h);
  g.stroke();
  return c;
}

const starImg = makeStar(19.5, 8);
const diamondImg = makeDiamond(8.5);
const legendStar = makeStar(19, 8);
const legendDiamond = makeDiamond(16);

const legendItems = [
  { label: seriesNames[0], kind: "square", fill: "#ffc20e", line: "#a88a2a" },
  { label: seriesNames[1], kind: "circle", fill: "#1aa61a", line: "#117711" },
  { label: seriesNames[2], kind: "circle", fill: "#ff85c8", line: "#c8739f" },
  { label: seriesNames[3], kind: "image", img: legendDiamond },
  { label: seriesNames[4], kind: "image", img: legendStar },
];

const crossAxes = {
  id: "crossAxes",
  beforeDatasetsDraw(chart) {
    const { ctx, scales: { x, y } } = chart;
    const ox = x.getPixelForValue(origin[0]);
    const oy = y.getPixelForValue(origin[1]);
    ctx.save();
    ctx.strokeStyle = "#000";
    ctx.lineWidth = 3;
    ctx.beginPath();
    ctx.moveTo(x.getPixelForValue(axisSpanX[0]), oy);
    ctx.lineTo(x.getPixelForValue(axisSpanX[1]), oy);
    ctx.moveTo(ox, y.getPixelForValue(axisSpanY[0]));
    ctx.lineTo(ox, y.getPixelForValue(axisSpanY[1]));
    ctx.stroke();
    ctx.restore();
  },
};

const sideLegend = {
  id: "sideLegend",
  afterDraw(chart) {
    const ctx = chart.ctx;
    const mx = 1472, tx = 1525, top = 25, step = 49.3;
    ctx.save();
    ctx.font = '32px "DejaVu Sans", Verdana, sans-serif';
    ctx.letterSpacing = "1.6px";
    legendItems.forEach((it, i) => {
      const cy = top + i * step;
      if (it.kind === "square") {
        ctx.fillStyle = it.fill;
        ctx.strokeStyle = it.line;
        ctx.lineWidth = 1;
        ctx.fillRect(mx - 7, cy - 7, 14, 14);
        ctx.strokeRect(mx - 7, cy - 7, 14, 14);
      } else if (it.kind === "circle") {
        ctx.beginPath();
        ctx.arc(mx, cy, 7, 0, Math.PI * 2);
        ctx.fillStyle = it.fill;
        ctx.fill();
        ctx.strokeStyle = it.line;
        ctx.lineWidth = 1;
        ctx.stroke();
      } else {
        ctx.drawImage(it.img, mx - it.img.width / 2, cy - it.img.height / 2);
      }
      ctx.fillStyle = "#2a3f5f";
      ctx.textBaseline = "alphabetic";
      ctx.fillText(it.label, tx, cy + 11);
    });
    ctx.restore();
  },
};

new Chart(document.getElementById("chart"), {
  type: "scatter",
  data: {
    datasets: [
      {
        label: seriesNames[0],
        data: toPoints(nonHubTopLeft, nonHubDenseTop, nonHubTopRight, nonHubLeft, nonHubCentre, nonHubRightUpper, nonHubRightLower, nonHubCentreLower, nonHubBottomLeft),
        pointStyle: "rect",
        pointRadius: 6.2,
        backgroundColor: "#ffc000",
        borderColor: "rgba(150,125,50,0.8)",
        borderWidth: 1,
        order: 5,
      },
      {
        label: seriesNames[1],
        data: toPoints(foodLeft, foodCore, foodSouth, foodOther),
        pointStyle: "circle",
        pointRadius: 4.2,
        backgroundColor: "#1aa61a",
        borderColor: "#138313",
        borderWidth: 1,
        order: 4,
      },
      {
        label: seriesNames[2],
        data: toPoints(drugPts),
        pointStyle: "circle",
        pointRadius: 4.3,
        backgroundColor: "#ff85c8",
        borderColor: "#c8739f",
        borderWidth: 1,
        order: 3,
      },
      {
        label: seriesNames[3],
        data: toPoints(hubPts),
        pointStyle: diamondImg,
        order: 2,
      },
      {
        label: seriesNames[4],
        data: toPoints(winePts),
        pointStyle: starImg,
        order: 1,
      },
    ],
  },
  options: {
    responsive: false,
    animation: false,
    devicePixelRatio: 1,
    events: [],
    layout: { padding: 0 },
    plugins: { legend: { display: false }, tooltip: { enabled: false } },
    scales: {
      x: { type: "linear", min: xRange[0], max: xRange[1], display: false },
      y: { type: "linear", min: yRange[0], max: yRange[1], reverse: true, display: false },
    },
  },
  plugins: [crossAxes, sideLegend],
});
</script>
</body>
</html>
